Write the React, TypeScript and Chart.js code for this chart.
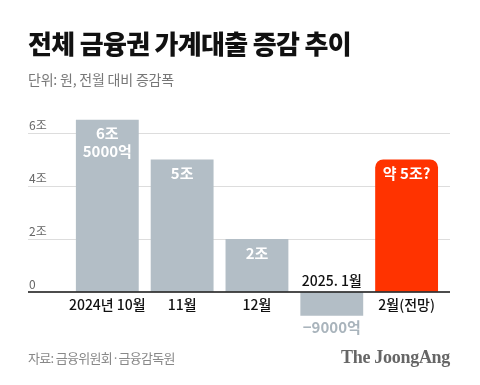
import React, { useEffect, useRef } from 'react';
import { Chart, registerables } from 'chart.js';

Chart.register(...registerables);

const categories = ['2024년 10월', '11월', '12월', '2025. 1월', '2월(전망)'];
const values = [6.5, 5, 2, -0.9, 5];
const valueLabels = [['6조', '5000억'], ['5조'], ['2조'], ['−9000억'], ['약 5조?']];
const barColors = ['#b3bec6', '#b3bec6', '#b3bec6', '#b3bec6', '#ff3300'];
const yTicks = [0, 2, 4, 6];
const yTickLabels = ['0', '2조', '4조', '6조'];

const FONT = '"Noto Sans CJK KR", "Noto Sans", sans-serif';

const labelPlugin = {
  id: 'barLabels',
  afterDatasetsDraw(chart: any) {
    const { ctx, chartArea, scales } = chart;
    const y0 = scales.y.getPixelForValue(0);
    ctx.save();
    ctx.strokeStyle = '#111';
    ctx.lineWidth = 1.5;
    ctx.beginPath();
    ctx.moveTo(chartArea.left, y0);
    ctx.lineTo(chartArea.right, y0);
    ctx.stroke();
    const meta = chart.getDatasetMeta(0);
    meta.data.forEach((bar: any, i: number) => {
      const { x, y } = bar.getProps(['x', 'y'], true);
      const v = values[i];
      ctx.textAlign = 'center';
      ctx.textBaseline = 'middle';
      ctx.font = `bold 15px ${FONT}`;
      if (v >= 0) {
        ctx.fillStyle = '#ffffff';
        valueLabels[i].forEach((t, j) => ctx.fillText(t, x, y + 14 + j * 18));
      } else {
        ctx.fillStyle = '#a9b4bc';
        ctx.fillText(valueLabels[i][0], x, y + 11);
      }
      ctx.font = `500 14px ${FONT}`;
      ctx.fillStyle = '#111111';
      if (v >= 0) ctx.fillText(categories[i], x, y0 + 13);
      else ctx.fillText(categories[i], x, y0 - 11);
    });
    ctx.restore();
  },
};

export default function App() {
  const ref = useRef<HTMLCanvasElement>(null);
  useEffect(() => {
    if (!ref.current) return;
    const chart = new Chart(ref.current, {
      type: 'bar',
      data: {
        datasets: [
          {
            data: values.map((v, i) => ({ x: i, y: v })),
            backgroundColor: barColors,
            borderWidth: 0,
            borderRadius: (c: any) => (c.dataIndex === 4 ? { topLeft: 8, topRight: 8, bottomLeft: 0, bottomRight: 0 } : 0),
            borderSkipped: 'start',
            categoryPercentage: 0.84,
            barPercentage: 1,
          },
        ],
      },
      options: {
        animation: false,
        responsive: true,
        maintainAspectRatio: false,
        layout: { padding: { top: 106.5, bottom: 53.25, left: 26, right: 30 } },
        plugins: { legend: { display: false }, tooltip: { enabled: false }, title: { display: false } },
        scales: {
          x: {
            type: 'linear',
            display: false,
            offset: false,
            bounds: 'data',
            min: -1.06,
            max: 4.58,
            grid: { offset: false },
            afterBuildTicks: (scale: any) => {
              scale.ticks = categories.map((_, i) => ({ value: i }));
            },
          },
          y: {
            type: 'linear',
            min: -1.5,
            max: 7,
            border: { display: false },
            afterBuildTicks: (scale: any) => {
              scale.ticks = yTicks.map((v) => ({ value: v }));
            },
            grid: {
              drawTicks: false,
              color: (c: any) => (c.tick && c.tick.value === 0 ? 'rgba(0,0,0,0)' : '#dddddd'),
              lineWidth: 1,
            },
            ticks: {
              mirror: true,
              padding: 1,
              labelOffset: -8,
              color: '#666666',
              font: { family: FONT, size: 12 },
              callback: (v: any) => yTickLabels[yTicks.indexOf(Number(v))],
            },
          },
        },
      },
      plugins: [labelPlugin],
    } as any);
    return () => chart.destroy();
  }, []);

  return (
    <div style={{ position: 'absolute', left: 0, top: 0, width: 480, height: 385, background: '#fff', overflow: 'hidden' }}>
      <div style={{ position: 'absolute', left: 0, top: 0, width: 480, height: 385 }}>
        <canvas ref={ref} />
      </div>
      <div style={{ position: 'absolute', left: 28, top: 30, fontFamily: FONT, fontWeight: 900, fontSize: 26, lineHeight: '26px', letterSpacing: -0.7, color: '#111', whiteSpace: 'nowrap' }}>
        전체 금융권 가계대출 증감 추이
      </div>
      <div style={{ position: 'absolute', left: 28, top: 72, fontFamily: FONT, fontSize: 14, lineHeight: '14px', letterSpacing: -0.2, color: '#777', whiteSpace: 'nowrap' }}>
        단위: 원, 전월 대비 증감폭
      </div>
      <div style={{ position: 'absolute', left: 28, top: 351, fontFamily: FONT, fontSize: 13, lineHeight: '13px', letterSpacing: -0.7, color: '#888', whiteSpace: 'nowrap' }}>
        자료: 금융위원회·금융감독원
      </div>
      <div style={{ position: 'absolute', right: 30, top: 348, fontFamily: '"Liberation Serif", "DejaVu Serif", serif', fontWeight: 700, fontSize: 18, lineHeight: '18px', letterSpacing: -0.3, color: '#666', whiteSpace: 'nowrap' }}>
        The JoongAng
      </div>
    </div>
  );
}
